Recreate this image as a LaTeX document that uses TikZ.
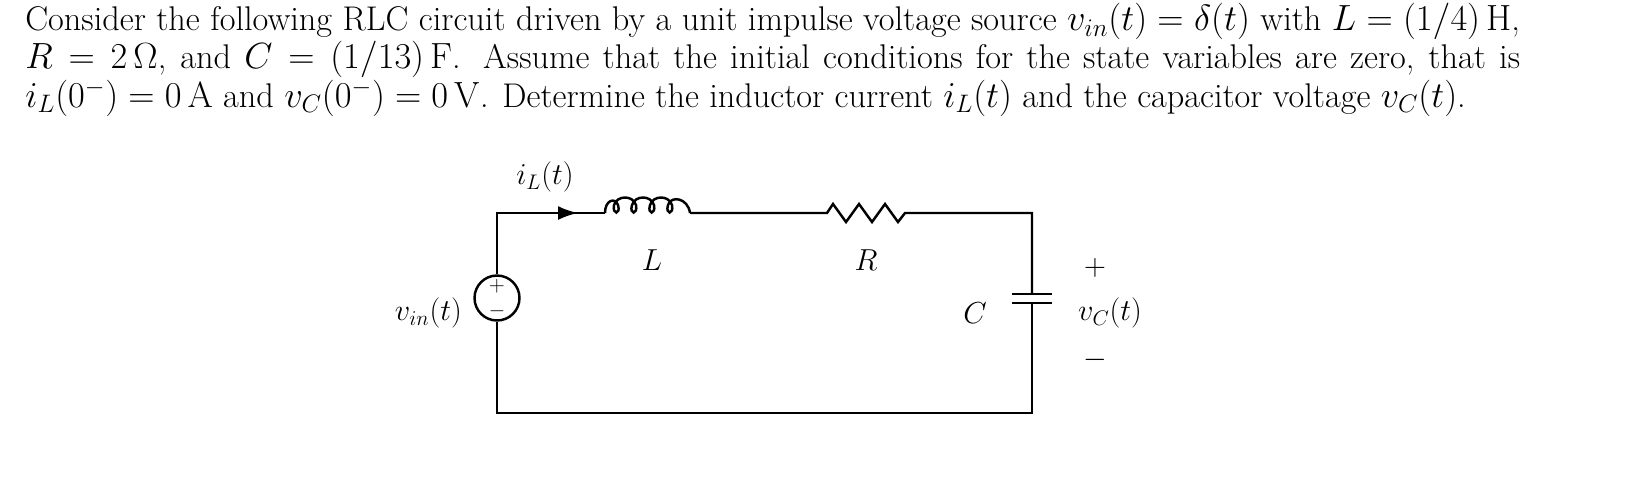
\documentclass[tikz,border=0pt]{standalone}
\usetikzlibrary{decorations.pathmorphing,arrows.meta}
\begin{document}
\begin{tikzpicture}[x=0.02cm,y=-0.02cm,
  wire/.style={line width=1.4pt},
  lbl/.style={font=\fontsize{18}{20}\selectfont}]
\useasboundingbox (0,0) rectangle (1638,484);
\node[anchor=north west,inner sep=0pt,text width=29.9cm,align=justify,font=\fontsize{19.5}{21.8}\selectfont] (txt) at (25,3)
{Consider the following RLC circuit driven by a unit impulse voltage source $v_{in}(t)=\delta(t)$ with $L=(1/4)\,\mathrm{H}$, $R=2\,\Omega$, and $C=(1/13)\,\mathrm{F}$. Assume that the initial conditions for the state variables are zero, that is $i_L(0^-)=0\,\mathrm{A}$ and $v_C(0^-)=0\,\mathrm{V}$. Determine the inductor current $i_L(t)$ and the capacitor voltage $v_C(t)$.};
% nodes
\coordinate (tl) at (497,213);
\coordinate (tr) at (1032,213);
\coordinate (bl) at (497,413);
\coordinate (br) at (1032,413);
\node[draw,circle,line width=1.4pt,minimum size=0.9cm,inner sep=0pt] (src) at (497,298) {};
\node[font=\fontsize{12}{12}\selectfont,inner sep=0pt] (plus) at (497,286) {$+$};
\node[font=\fontsize{12}{12}\selectfont,inner sep=0pt] (minus) at (497,311) {$-$};
\coordinate (l1) at (605,213);
\coordinate (l2) at (690,213);
\coordinate (r1) at (827,213);
\coordinate (r2) at (905,213);
\coordinate (c1) at (1032,294);
\coordinate (c2) at (1032,303);
% wires
\draw[wire] (src.north) -- (tl) -- (l1);
\draw[wire,-{Latex[length=4mm,width=2.8mm]}] (tl) -- (578,213);
\draw[wire] (l1) .. controls (605,200) and (615,197) .. (618,205)
  .. controls (621,215) and (612,215) .. (614,205)
  .. controls (617,195) and (633,195) .. (636,205)
  .. controls (638,215) and (629,215) .. (632,205)
  .. controls (635,195) and (651,195) .. (654,205)
  .. controls (656,215) and (647,215) .. (650,205)
  .. controls (653,195) and (669,195) .. (672,205)
  .. controls (674,215) and (665,215) .. (668,205)
  .. controls (671,195) and (688,198) .. (l2);
\draw[wire] (l2) -- (r1) -- (833,204) -- (846,222) -- (859,204) -- (872,222) -- (885,204) -- (898,222) -- (r2) -- (tr) -- (c1);
\draw[wire] (c2) -- (br) -- (bl) -- (src.south);
\draw[wire] (1012,294) -- (1052,294);
\draw[wire] (1012,303) -- (1052,303);
% labels
\node[lbl] (iL) at (545,177) {$i_L(t)$};
\node[lbl] (Ll) at (652,260) {$L$};
\node[lbl] (Rl) at (866,260) {$R$};
\node[lbl] (Cl) at (975,313) {$C$};
\node[lbl] (vC) at (1110,313) {$v_C(t)$};
\node[lbl] (vp) at (1095,268) {$+$};
\node[lbl] (vm) at (1095,360) {$-$};
\node[lbl,anchor=east] (vin) at (468,313) {$v_{in}(t)$};
\end{tikzpicture}
\end{document}
